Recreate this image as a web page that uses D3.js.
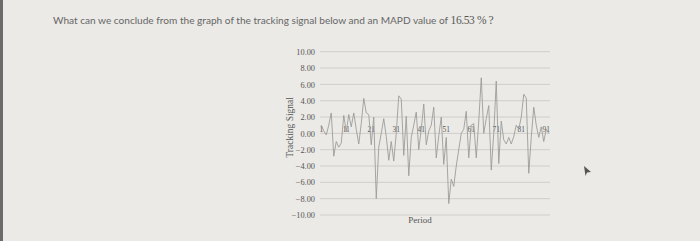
<!DOCTYPE html>
<html><head><meta charset="utf-8">
<script src="https://cdn.jsdelivr.net/npm/d3@7"></script>
<style>
html,body{margin:0;padding:0;background:#ebeae6;}
svg{display:block;}
</style></head>
<body>
<svg id="c" width="700" height="241"></svg>
<script>
const periods = d3.range(1, 93);
const trackingSignal = [
 1.0, 0.3, -0.2, 1.0, 2.5, -2.8, -1.0, -1.7, -1.2, 2.2,
 0.2, 2.3, 0.8, 2.5, 0.5, -1.3, 1.2, 4.3, 2.5, 2.3,
 -1.4, 2.0, -8.0, -1.7, 0.0, 1.8, -0.4, -3.3, -1.0, -3.4,
 0.0, 4.6, 4.2, -2.7, 2.1, -5.2, -0.5, 1.0, 2.6, -2.0,
 0.5, 3.6, -1.4, 0.3, 1.0, 3.2, -3.0, -0.3, 2.0, -3.8,
 -0.5, -8.6, -5.6, -6.5, -4.0, -2.0, 0.0, 0.5, 2.7, -3.0,
 1.0, 1.2, -3.0, 1.5, 6.8, 0.0, 1.8, 3.4, -4.5, 0.0,
 6.4, -3.7, 1.5, -0.8, -1.3, -0.5, -1.3, -0.4, 1.0, 0.5,
 2.0, 4.8, 4.3, -4.9, -0.5, 3.2, 1.0, -0.5, 0.8, -1.0,
 0.5, 0.0
];
const yTicks = [10, 8, 6, 4, 2, 0, -2, -4, -6, -8, -10];
const xTickLabels = [1, 11, 21, 31, 41, 51, 61, 71, 81, 91];
const titleText = "What can we conclude from the graph of the tracking signal below and an MAPD value of ";
const titleValue = "16.53 % ?";

const svg = d3.select("#c");
svg.append("rect").attr("x",0).attr("y",0).attr("width",3).attr("height",241).attr("fill","#6b6b6b");

const t = svg.append("text").attr("x",53).attr("y",24)
  .attr("font-family","Lato, 'Open Sans', sans-serif").attr("font-size",10.1).attr("fill","#666")
  .text(titleText);
t.append("tspan").attr("font-family","'Liberation Serif', serif").attr("font-size",11.5)
  .attr("letter-spacing",-0.4).attr("fill","#555").text(titleValue);

const x = d3.scaleBand().domain(periods).range([320, 550]).padding(0);
const y = d3.scaleLinear().domain([-10, 10]).range([215, 51.7]);
const cx = p => x(p) + x.bandwidth()/2;

svg.append("g").selectAll("line").data(yTicks).join("line")
  .attr("x1",320).attr("x2",550)
  .attr("y1",d=>y(d)).attr("y2",d=>y(d))
  .attr("stroke","#cfcecb").attr("stroke-width",1);

const yAxis = d3.axisLeft(y).tickValues(yTicks).tickSize(0).tickPadding(3).tickFormat(d3.format(".2f"));
const ya = svg.append("g").attr("transform","translate(318,0)").call(yAxis);
ya.select(".domain").remove();
ya.selectAll("text").attr("font-family","'Liberation Serif', serif").attr("font-size",8.3).attr("fill","#555")
  .text(d => (d<0?"\u2212":"") + d3.format(".2f")(Math.abs(d)));

svg.selectAll("text.xl").data(xTickLabels).join("text")
  .attr("class","xl").attr("x",d=>cx(d)).attr("y",y(0)-1)
  .attr("text-anchor","middle").attr("font-family","'Liberation Serif', serif")
  .attr("font-size",7.5).attr("fill","#555").text(d=>d);

const line = d3.line().x((d,i)=>cx(periods[i])).y(d=>y(d));
svg.append("path").datum(trackingSignal).attr("d",line)
  .attr("fill","none").attr("stroke","#9c9c9a").attr("stroke-width",0.9);

svg.append("text").attr("transform","translate(293,"+(y(0)-6)+") rotate(-90)")
  .attr("text-anchor","middle").attr("font-family","'Liberation Serif', serif")
  .attr("font-size",9.5).attr("fill","#555").text("Tracking Signal");

svg.append("text").attr("x",420).attr("y",223).attr("text-anchor","middle")
  .attr("font-family","'Liberation Serif', serif").attr("font-size",9).attr("fill","#555").text("Period");

svg.append("path").attr("d","M584,166 L591,172 L587,172.5 L585.5,176 Z").attr("fill","#555");
</script>
</body></html>
